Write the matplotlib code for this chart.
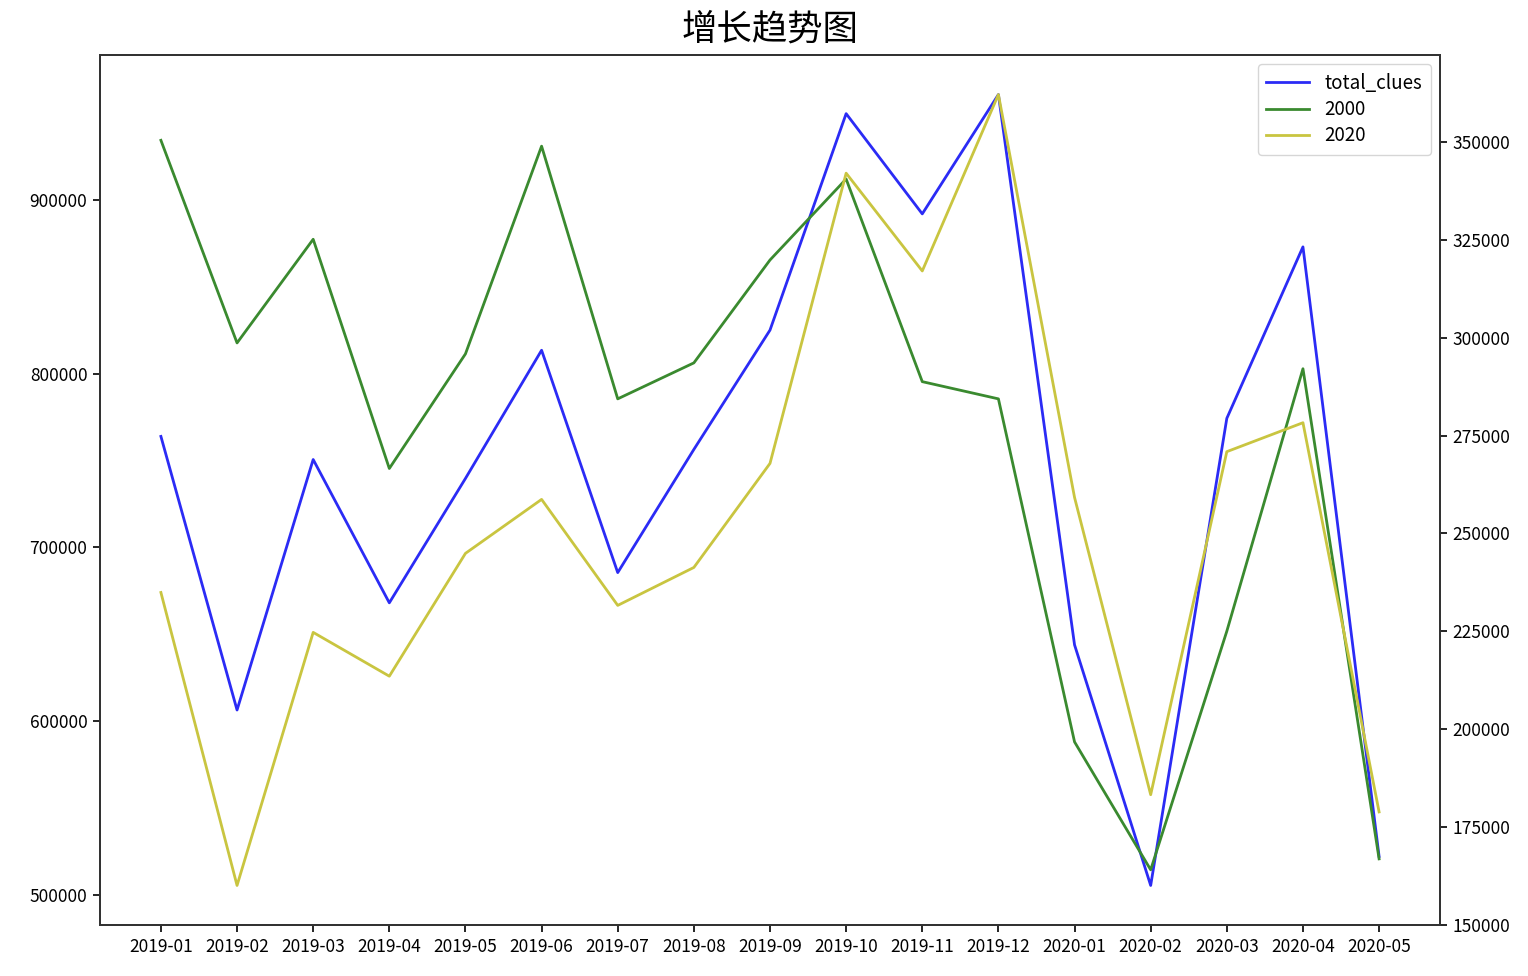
import matplotlib
matplotlib.use("Agg")
import matplotlib.pyplot as plt

plt.rcParams['font.family'] = ['Noto Sans CJK SC', 'DejaVu Sans']
plt.rcParams['axes.unicode_minus'] = False

months = ['2019-01', '2019-02', '2019-03', '2019-04', '2019-05', '2019-06',
          '2019-07', '2019-08', '2019-09', '2019-10', '2019-11', '2019-12',
          '2020-01', '2020-02', '2020-03', '2020-04', '2020-05']

total_clues = [763800, 606300, 750500, 668000, 739600, 813400, 685400, 756300,
               825000, 949600, 891900, 960600, 643800, 505300, 774200, 872900,
               522000]

clues_2000 = [350500, 298700, 325200, 266600, 295900, 349000, 284400, 293600,
              319900, 340600, 288800, 284400, 196700, 164000, 225000, 292100,
              166800]

clues_2020 = [234900, 160000, 224700, 213500, 244900, 258700, 231600, 241300,
              267900, 342100, 317100, 362200, 259200, 183200, 270900, 278300,
              178800]

fig = plt.figure(figsize=(15.28, 9.76), dpi=100)
ax = fig.add_axes([100 / 1528, 1 - 925 / 976, 1340 / 1528, 870 / 976])
ax2 = ax.twinx()

l1, = ax.plot(months, total_clues, color='#2b2bf5', linewidth=2, label='total_clues')
l2, = ax2.plot(months, clues_2000, color='#3a8a2f', linewidth=2, label='2000')
l3, = ax2.plot(months, clues_2020, color='#c9c540', linewidth=2, label='2020')

ax.set_title('增长趋势图', fontsize=25.5, pad=11)

for a in (ax, ax2):
    a.tick_params(labelsize=12.5, length=5, width=1.2, pad=4)
    for s in a.spines.values():
        s.set_linewidth(1.4)
        s.set_color('#333333')

ax2.legend(handles=[l1, l2, l3], loc='upper right', fontsize=13.5,
           handlelength=2.3, borderpad=0.45, labelspacing=0.28)

fig.savefig('out.png', dpi=100)
